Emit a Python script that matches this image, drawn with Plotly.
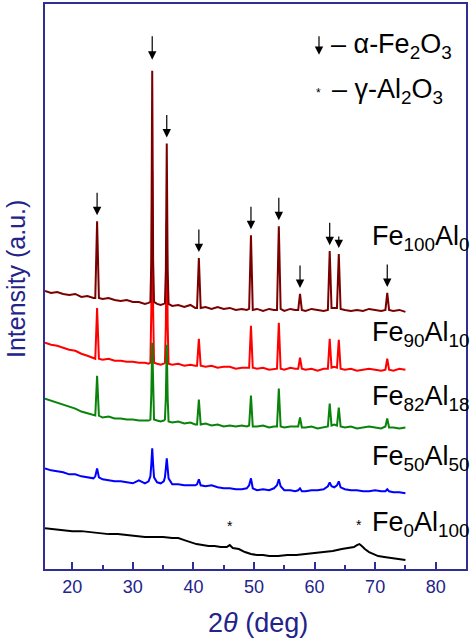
import plotly.graph_objects as go

# ---------------- data ----------------
two_theta = [15.5, 16.5, 17.5, 18.5, 19.5, 20.5, 21.5, 22.5, 23.5,
             23.8, 24.1, 24.4,
             25.0, 26.0, 27.0, 28.0, 29.0, 30.0, 31.0, 32.0, 32.6,
             32.9, 33.05, 33.2, 33.35, 33.5,
             34.0, 34.6, 35.1,
             35.3, 35.45, 35.6, 35.75, 35.9,
             36.5, 37.5, 38.5, 39.5, 40.3,
             40.6, 40.9, 41.2,
             42.0, 43.0, 44.0, 45.0, 46.0, 47.0, 48.0, 48.8,
             49.2, 49.5, 49.8,
             50.5, 51.5, 52.5, 53.3,
             53.8, 54.1, 54.4,
             55.0, 56.0, 56.8,
             57.3, 57.6, 57.9,
             58.5, 59.5, 60.5, 61.5,
             62.2, 62.5, 62.8,
             63.25,
             63.7, 64.0, 64.3,
             65.0, 66.0, 67.0, 68.0, 69.0, 70.0, 71.0,
             71.7, 72.0, 72.3,
             73.0, 74.0, 75.0]

fe100_al0 = [279, 277, 278, 276, 275, 276, 273, 274, 272,
             272, 349, 272,
             271, 272, 270, 269, 270, 268, 268, 266, 267,
             268, 310, 500, 310, 268,
             266, 265, 266,
             267, 300, 427, 300, 266,
             264, 265, 263, 265, 262,
             262, 312, 262,
             263, 261, 263, 261, 262, 260, 261, 260,
             261, 335, 260,
             261, 259, 261, 260,
             260, 344, 261,
             259, 261, 260,
             260, 276, 260,
             259, 261, 260, 259,
             260, 319, 262,
             262,
             262, 316, 261,
             260, 259, 260, 259, 261, 260, 259,
             260, 277, 260,
             259, 260, 258]

fe90_al10 = [227, 225, 224, 222, 220, 219, 216, 214, 212,
             211, 262, 211,
             210, 211, 209, 209, 208, 208, 207, 207, 206,
             207, 260, 400, 260, 207,
             206, 205, 206,
             207, 245, 350, 245, 206,
             205, 206, 204, 205, 204,
             204, 231, 204,
             203, 204, 202, 203, 203, 201, 202, 202,
             202, 244, 202,
             201, 202, 200, 201,
             201, 247, 201,
             200, 202, 201,
             201, 212, 201,
             200, 201, 199, 201,
             201, 231, 202,
             203,
             202, 230, 201,
             200, 201, 199, 200, 201, 200, 199,
             200, 211, 200,
             199, 201, 200]

fe82_al18 = [171, 169, 167, 165, 163, 161, 158, 156, 154,
             154, 194, 154,
             152, 153, 151, 151, 150, 150, 149, 149, 149,
             150, 175, 227, 175, 150,
             149, 148, 149,
             150, 172, 225, 172, 148,
             147, 148, 146, 147, 145,
             145, 170, 145,
             146, 144, 145, 143, 144, 143, 144, 143,
             144, 174, 143,
             143, 144, 142, 143,
             143, 181, 143,
             142, 143, 143,
             143, 152, 142,
             142, 143, 141, 142,
             143, 166, 144,
             145,
             144, 162, 143,
             142, 143, 141, 142, 143, 142, 141,
             143, 151, 142,
             142, 141, 142]

fe50_al50 = [101, 99, 98, 97, 95, 95, 93, 92, 91,
             93, 101, 92,
             90, 89, 88, 88, 87, 86, 89, 86, 88,
             93, 105, 121, 105, 92,
             87, 86, 88,
             92, 101, 111, 101, 91,
             85, 85, 84, 84, 84,
             85, 90, 84,
             83, 84, 82, 81, 81, 80, 80, 81,
             84, 91, 81,
             79, 80, 79, 81,
             84, 90, 83,
             79, 79, 78,
             79, 81, 78,
             78, 79, 79, 80,
             83, 87, 83,
             82,
             84, 88, 82,
             80, 79, 79, 78, 78, 79, 78,
             78, 80, 78,
             77, 77, 76]

fe0_x = [15.5, 17, 18.5, 20, 21.5, 23, 24.5, 26, 27.5, 29,
         30.5, 32, 33.5, 35, 36.5, 37.5, 38.5, 39.5, 40.5, 41.5,
         42.5, 43.5, 44.5, 45.5, 46.0, 46.5, 47.5, 48.5, 49.5, 50.5,
         51.5, 52.5, 54, 55.5, 57, 58.5, 60, 61.5, 63, 64.5,
         65.5, 66.5, 67.0, 67.4, 67.8, 68.3, 69, 69.7, 70.5, 71.5,
         72.5, 73.5, 75]
fe0_al100 = [41, 40, 39, 38, 38, 37, 36, 35, 35, 34,
             33, 32, 32, 32, 31, 31, 29, 27, 25, 24,
             23, 23, 22, 22, 24, 21, 20, 17, 15, 14,
             14, 13, 13, 14, 14, 15, 16, 17, 18, 20,
             21, 22, 24, 25, 23, 20, 17, 15, 13, 12,
             11, 10, 9]

fe2o3_peaks = [24.1, 33.2, 35.6, 40.9, 49.5, 54.1, 57.6, 62.5, 64.0, 72.0]
al2o3_peaks = [46.0, 67.4]

sample_names = ["Fe<sub>0</sub>Al<sub>100</sub>", "Fe<sub>50</sub>Al<sub>50</sub>",
                "Fe<sub>90</sub>Al<sub>10</sub>", "Fe<sub>82</sub>Al<sub>18</sub>",
                "Fe<sub>100</sub>Al<sub>0</sub>"]
x_ticks = [20, 30, 40, 50, 60, 70, 80]

assert all(len(s) == len(two_theta) for s in (fe100_al0, fe90_al10, fe82_al18, fe50_al50))
assert len(fe0_x) == len(fe0_al100)

# ---------------- styles ----------------
FONT = "Liberation Sans, Arial, sans-serif"
NAVY = "#23238a"
FRAME = "#2e2e94"

fig = go.Figure()
traces = [
    (fe0_x, fe0_al100, "#000000", sample_names[0]),
    (two_theta, fe50_al50, "#0000ff", sample_names[1]),
    (two_theta, fe90_al10, "#ff0000", sample_names[2]),
    (two_theta, fe82_al18, "#0a830a", sample_names[3]),
    (two_theta, fe100_al0, "#7a0000", sample_names[4]),
]
for xs, ys, col, name in traces:
    fig.add_trace(go.Scatter(x=xs, y=ys, mode="lines", name=name,
                             line=dict(color=col, width=2), showlegend=False))

annotations = []
# arrows over alpha-Fe2O3 peaks of Fe100Al0
for p in fe2o3_peaks:
    top = fe100_al0[two_theta.index(p)]
    ay, so = -30, 6
    if p == 33.2:
        ay, so = -36, 11
    if p == 64.0:
        ay, so = -19, 6
    annotations.append(dict(x=p, y=top, xref="x", yref="y", text="", showarrow=True,
                            ax=0, ay=ay, standoff=so, arrowhead=2, arrowsize=1.4,
                            arrowwidth=1.2, arrowcolor="#000000"))
# asterisks over gamma-Al2O3 features
for p in al2o3_peaks:
    val = fe0_al100[fe0_x.index(p)]
    annotations.append(dict(x=p, y=val, xref="x", yref="y", text="*", showarrow=False,
                            yshift=19, font=dict(family=FONT, size=14, color="#000000")))

# sample labels
label_y = [524, 458, 333, 397, 237]  # pixel centres of the labels
for name, ypx in zip(sample_names, label_y):
    annotations.append(dict(x=(370 - 45) / 421, y=(569 - ypx) / 567, xref="paper", yref="paper",
                            text=name, showarrow=False, xanchor="left", yanchor="middle",
                            font=dict(family=FONT, size=27, color="#000000")))

# legend (top right)
annotations.append(dict(x=(319 - 45) / 421, y=(569 - 53) / 567, xref="paper", yref="paper",
                        text="", showarrow=True, ax=0, ay=-20, arrowhead=2, arrowsize=1.4,
                        arrowwidth=1.2, arrowcolor="#000000"))
annotations.append(dict(x=(329 - 45) / 421, y=(569 - 44) / 567, xref="paper", yref="paper",
                        text="– α-Fe<sub>2</sub>O<sub>3</sub>", showarrow=False,
                        xanchor="left", yanchor="middle",
                        font=dict(family=FONT, size=27, color="#000000")))
annotations.append(dict(x=(318 - 45) / 421, y=(569 - 91) / 567, xref="paper", yref="paper",
                        text="*", showarrow=False, xanchor="center", yanchor="middle",
                        font=dict(family=FONT, size=12, color="#000000")))
annotations.append(dict(x=(330 - 45) / 421, y=(569 - 89) / 567, xref="paper", yref="paper",
                        text="– γ-Al<sub>2</sub>O<sub>3</sub>", showarrow=False,
                        xanchor="left", yanchor="middle",
                        font=dict(family=FONT, size=27, color="#000000")))

# axis titles
annotations.append(dict(x=(258 - 45) / 421, y=(569 - 623) / 567, xref="paper", yref="paper",
                        text="2<i>θ</i> (deg)", showarrow=False, xanchor="center", yanchor="middle",
                        font=dict(family=FONT, size=27, color=NAVY)))
annotations.append(dict(x=(16 - 45) / 421, y=(569 - 278) / 567, xref="paper", yref="paper",
                        text="Intensity (a.u.)", showarrow=False, textangle=-90,
                        xanchor="center", yanchor="middle",
                        font=dict(family=FONT, size=25, color=NAVY)))

fig.update_layout(
    width=474, height=640,
    margin=dict(l=45, r=8, t=2, b=71),
    paper_bgcolor="white", plot_bgcolor="white",
    annotations=annotations,
    xaxis=dict(range=[15.5, 85], tickvals=x_ticks, ticks="inside", ticklen=7, tickwidth=1.5,
               tickcolor=FRAME, showline=True, linecolor=FRAME, linewidth=2, mirror=True,
               showgrid=False, zeroline=False,
               tickfont=dict(family=FONT, size=18, color=NAVY),
               minor=dict(tickvals=[25, 35, 45, 55, 65, 75, 85], ticks="inside", ticklen=4,
                          tickwidth=1.5, tickcolor=FRAME)),
    yaxis=dict(range=[0, 567], showticklabels=False, ticks="", showline=True, linecolor=FRAME,
               linewidth=2, mirror=True, showgrid=False, zeroline=False),
)

fig.write_html("out.html")
